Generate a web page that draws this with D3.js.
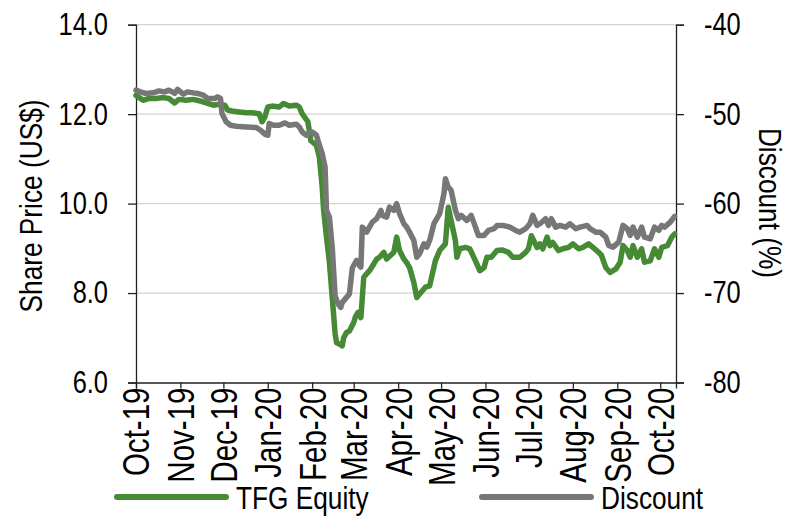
<!DOCTYPE html>
<html>
<head>
<meta charset="utf-8">
<script src="https://cdnjs.cloudflare.com/ajax/libs/d3/7.8.5/d3.min.js"></script>
<style>
  body { margin: 0; background: #fff; }
  text { font-family: "Liberation Sans", Arial, sans-serif; fill: #000; }
</style>
</head>
<body>
<div id="chart"></div>
<script>
// TFG share price (left axis, US$)
var equityDates = ["2019-10-01","2019-10-06","2019-10-10","2019-10-15","2019-10-20","2019-10-24","2019-10-28","2019-10-31",
  "2019-11-05","2019-11-10","2019-11-14","2019-11-19","2019-11-24","2019-11-28","2019-12-02","2019-12-04","2019-12-07",
  "2019-12-12","2019-12-17","2019-12-21","2019-12-26","2019-12-28","2019-12-30","2020-01-01","2020-01-04","2020-01-09",
  "2020-01-12","2020-01-16","2020-01-21","2020-01-23","2020-01-25","2020-01-29","2020-01-31","2020-02-04","2020-02-06",
  "2020-02-08","2020-02-09","2020-02-11","2020-02-13","2020-02-15","2020-02-17","2020-02-18","2020-02-20","2020-02-22",
  "2020-02-23","2020-02-25","2020-02-27","2020-03-01","2020-03-02","2020-03-04","2020-03-06","2020-03-08","2020-03-10",
  "2020-03-12","2020-03-15","2020-03-17","2020-03-19","2020-03-22","2020-03-24","2020-03-29","2020-03-31","2020-04-02",
  "2020-04-05","2020-04-07","2020-04-09","2020-04-12","2020-04-14","2020-04-16","2020-04-20","2020-04-23","2020-04-27",
  "2020-04-30","2020-05-04","2020-05-06","2020-05-08","2020-05-11","2020-05-12","2020-05-14","2020-05-18","2020-05-21",
  "2020-05-25","2020-05-28","2020-05-31","2020-06-02","2020-06-05","2020-06-09","2020-06-13","2020-06-17","2020-06-20",
  "2020-06-25","2020-06-29","2020-07-01","2020-07-03","2020-07-07","2020-07-09","2020-07-11","2020-07-14","2020-07-16",
  "2020-07-18","2020-07-22","2020-07-25","2020-07-29","2020-08-01","2020-08-05","2020-08-08","2020-08-12","2020-08-15",
  "2020-08-19","2020-08-21","2020-08-24","2020-08-27","2020-08-31","2020-09-03","2020-09-05","2020-09-08","2020-09-10",
  "2020-09-12","2020-09-15","2020-09-18","2020-09-20","2020-09-24","2020-09-27","2020-09-30","2020-10-02","2020-10-06",
  "2020-10-09","2020-10-11"];
var equityValues = [12.42,12.31,12.35,12.35,12.37,12.35,12.25,12.33,
  12.31,12.33,12.30,12.25,12.20,12.22,12.20,12.09,12.07,
  12.05,12.03,12.03,12.01,11.83,11.94,12.16,12.18,12.16,
  12.24,12.18,12.20,12.16,12.01,11.83,11.41,11.30,11.04,
  10.37,9.85,9.25,8.70,7.90,7.10,6.89,6.86,6.82,
  7.00,7.12,7.15,7.34,7.45,7.57,7.45,8.35,8.43,
  8.50,8.65,8.76,8.80,8.91,8.76,8.91,9.25,8.95,
  8.76,8.68,8.57,8.23,7.90,7.98,8.13,8.16,8.72,
  8.95,9.10,9.92,9.62,9.17,8.80,8.99,9.02,8.99,
  8.72,8.50,8.57,8.80,8.80,8.95,8.96,8.91,8.80,
  8.80,8.91,8.99,9.28,9.02,9.10,8.99,9.25,9.06,
  9.13,8.95,8.99,9.02,9.10,8.99,9.02,9.10,9.02,
  8.91,8.84,8.57,8.46,8.54,8.69,9.06,8.95,8.80,
  9.06,8.80,8.99,8.69,8.72,8.99,8.80,9.02,9.06,
  9.25,9.32];

// discount (right axis, %)
var discountDates = ["2019-10-01","2019-10-04","2019-10-08","2019-10-13","2019-10-17","2019-10-21","2019-10-24","2019-10-28",
  "2019-10-30","2019-11-03","2019-11-06","2019-11-10","2019-11-13","2019-11-17","2019-11-20","2019-11-25","2019-11-27",
  "2019-11-29","2019-11-30","2019-12-03","2019-12-06","2019-12-10","2019-12-17","2019-12-24","2019-12-27","2019-12-30",
  "2020-01-01","2020-01-02","2020-01-05","2020-01-09","2020-01-13","2020-01-16","2020-01-21","2020-01-23","2020-01-25",
  "2020-01-28","2020-01-30","2020-02-01","2020-02-04","2020-02-05","2020-02-08","2020-02-10","2020-02-11","2020-02-13",
  "2020-02-15","2020-02-17","2020-02-19","2020-02-21","2020-02-22","2020-02-25","2020-02-27","2020-02-29","2020-03-03",
  "2020-03-05","2020-03-06","2020-03-07","2020-03-10","2020-03-12","2020-03-14","2020-03-17","2020-03-20","2020-03-21",
  "2020-03-24","2020-03-26","2020-03-29","2020-03-31","2020-04-02","2020-04-05","2020-04-07","2020-04-09","2020-04-12",
  "2020-04-14","2020-04-16","2020-04-19","2020-04-21","2020-04-23","2020-04-26","2020-04-28","2020-04-30","2020-05-03",
  "2020-05-04","2020-05-06","2020-05-08","2020-05-11","2020-05-13","2020-05-15","2020-05-19","2020-05-22","2020-05-25",
  "2020-05-27","2020-05-31","2020-06-03","2020-06-07","2020-06-09","2020-06-13","2020-06-18","2020-06-22","2020-06-25",
  "2020-06-29","2020-07-02","2020-07-04","2020-07-07","2020-07-09","2020-07-13","2020-07-15","2020-07-17","2020-07-20",
  "2020-07-23","2020-07-27","2020-07-30","2020-08-03","2020-08-06","2020-08-11","2020-08-13","2020-08-17","2020-08-20",
  "2020-08-24","2020-08-26","2020-08-29","2020-09-02","2020-09-05","2020-09-08","2020-09-10","2020-09-12","2020-09-15",
  "2020-09-18","2020-09-20","2020-09-24","2020-09-27","2020-09-30","2020-10-02","2020-10-04","2020-10-08","2020-10-11"];
var discountValues = [-47.32,-47.51,-47.69,-47.62,-47.40,-47.51,-47.32,-47.69,
  -47.24,-47.76,-47.51,-47.62,-47.69,-47.88,-48.25,-48.25,-48.07,
  -48.25,-49.93,-50.87,-51.24,-51.35,-51.43,-51.50,-51.80,-52.25,
  -52.36,-51.05,-51.24,-51.24,-50.98,-51.24,-51.13,-51.43,-51.99,
  -52.36,-52.17,-51.99,-52.36,-52.92,-54.41,-55.91,-60.76,-61.51,
  -64.87,-70.30,-71.22,-71.60,-71.04,-70.48,-70.10,-67.20,-66.36,
  -66.92,-67.11,-62.63,-63.19,-62.63,-62.07,-61.69,-60.76,-61.32,
  -61.51,-60.39,-60.76,-60.01,-61.13,-62.25,-62.63,-63.19,-64.12,
  -65.99,-65.61,-64.49,-64.87,-64.12,-62.25,-61.69,-61.13,-58.89,
  -57.21,-58.15,-58.52,-60.76,-61.69,-61.32,-61.88,-61.32,-62.63,
  -63.56,-63.56,-63.00,-62.81,-62.44,-62.44,-62.63,-63.00,-63.19,
  -62.81,-62.25,-61.32,-62.44,-62.25,-61.69,-62.44,-61.69,-62.63,
  -62.44,-62.63,-62.25,-62.81,-62.63,-62.44,-62.81,-63.19,-63.19,
  -63.75,-64.68,-64.87,-64.31,-62.44,-62.81,-63.56,-62.63,-63.75,
  -62.63,-63.75,-63.93,-62.63,-63.00,-62.44,-62.63,-62.07,-61.43];

var leftTicks = [6, 8, 10, 12, 14];
var rightTicks = [-80, -70, -60, -50, -40];
var seriesNames = ["TFG Equity", "Discount"];
var seriesColors = ["#468a36", "#777777"];

var W = 800, H = 529;
var plot = {left: 136, right: 676, top: 24.7, bottom: 382.5};
var narrow = 0.82; // squeeze Arial metrics down to Arial Narrow width

var parse = d3.timeParse("%Y-%m-%d");

var svg = d3.select("#chart").append("svg")
    .attr("width", W)
    .attr("height", H);

var x = d3.scaleTime()
    .domain([parse("2019-10-01"), parse("2020-10-12")])
    .range([plot.left, plot.right]);
var yL = d3.scaleLinear().domain([6, 14]).range([plot.bottom, plot.top]);
var yR = d3.scaleLinear().domain([-80, -40]).range([plot.bottom, plot.top]);

// gridlines
svg.append("g")
  .selectAll("line")
  .data(leftTicks.slice(1))
  .enter().append("line")
    .attr("x1", plot.left).attr("x2", plot.right)
    .attr("y1", function(d){ return yL(d); })
    .attr("y2", function(d){ return yL(d); })
    .attr("stroke", "#d4d4d4")
    .attr("stroke-width", 1.3);

// left axis
var gL = svg.append("g")
    .attr("transform", "translate(" + plot.left + ",0)")
    .call(d3.axisLeft(yL).tickValues(leftTicks).tickFormat(d3.format(".1f")).tickSize(8).tickPadding(20));
// right axis (plain hyphen for the minus sign)
var gR = svg.append("g")
    .attr("transform", "translate(" + plot.right + ",0)")
    .call(d3.axisRight(yR).tickValues(rightTicks).tickFormat(function(d){ return String(d); }).tickSize(8).tickPadding(20));
// bottom axis
var gX = svg.append("g")
    .attr("transform", "translate(0," + plot.bottom + ")")
    .call(d3.axisBottom(x).ticks(d3.timeMonth.every(1)).tickFormat(d3.timeFormat("%b-%y")).tickSize(6));

[gL, gR, gX].forEach(function(g){
  g.select(".domain").attr("stroke", "#222").attr("stroke-width", 1.3);
  g.selectAll(".tick line").attr("stroke", "#222").attr("stroke-width", 1.3);
  g.selectAll("text").style("fill", "#000");
  g.attr("font-family", null);
});
gL.selectAll("text").attr("font-size", 31);
gR.selectAll("text").attr("font-size", 31);
gX.selectAll("text")
    .attr("font-size", 36)
    .attr("transform", "rotate(-90)")
    .attr("text-anchor", "end")
    .attr("x", -5)
    .attr("y", 0)
    .attr("dy", "0.36em");

// axis titles
svg.append("text")
    .attr("transform", "translate(30,206) rotate(-90)")
    .attr("text-anchor", "middle")
    .attr("dy", "0.36em")
    .attr("font-size", 32)
    .text("Share Price (US$)");
svg.append("text")
    .attr("transform", "translate(771,203) rotate(90)")
    .attr("text-anchor", "middle")
    .attr("dy", "0.36em")
    .attr("font-size", 32)
    .text("Discount (%)");

// lines
var equity = equityDates.map(function(d, i){ return {date: parse(d), value: equityValues[i]}; });
var discount = discountDates.map(function(d, i){ return {date: parse(d), value: discountValues[i]}; });

svg.append("path")
    .datum(equity)
    .attr("fill", "none")
    .attr("stroke", seriesColors[0])
    .attr("stroke-width", 5.5)
    .attr("stroke-linejoin", "round")
    .attr("stroke-linecap", "round")
    .attr("d", d3.line().x(function(d){ return x(d.date); }).y(function(d){ return yL(d.value); }));

svg.append("path")
    .datum(discount)
    .attr("fill", "none")
    .attr("stroke", seriesColors[1])
    .attr("stroke-width", 5.5)
    .attr("stroke-linejoin", "round")
    .attr("stroke-linecap", "round")
    .attr("d", d3.line().x(function(d){ return x(d.date); }).y(function(d){ return yR(d.value); }));

// legend
var legX = [117, 482];
var leg = svg.selectAll(".leg")
  .data(seriesNames)
  .enter().append("g")
    .attr("transform", function(d, i){ return "translate(" + legX[i] + ",497)"; });
leg.append("line")
    .attr("x1", 0).attr("x2", 109)
    .attr("stroke", function(d, i){ return seriesColors[i]; })
    .attr("stroke-width", 6)
    .attr("stroke-linecap", "round");
leg.append("text")
    .attr("x", 119)
    .attr("dy", "0.36em")
    .attr("font-size", 32)
    .text(function(d){ return d; });

// condense every label along its baseline
svg.selectAll("text").each(function(){
  var len = this.getComputedTextLength();
  d3.select(this).attr("textLength", len * narrow).attr("lengthAdjust", "spacingAndGlyphs");
});
</script>
</body>
</html>
